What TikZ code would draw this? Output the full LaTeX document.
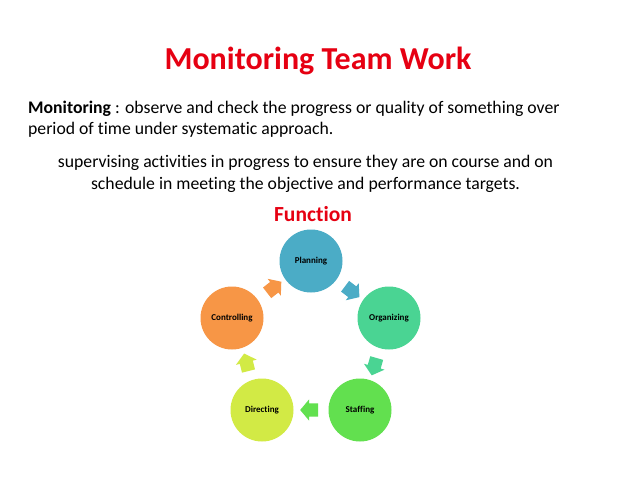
\documentclass[tikz,border=0pt]{standalone}
\usepackage{fontspec}
\setmainfont[Ligatures=NoCommon]{Carlito}
\usetikzlibrary{shapes.arrows}
\definecolor{titlered}{HTML}{E60012}
\definecolor{planblue}{HTML}{4BACC6}
\definecolor{orggreen}{HTML}{4AD493}
\definecolor{stafgreen}{HTML}{62E04F}
\definecolor{dirlime}{HTML}{D2EA45}
\definecolor{ctrlorange}{HTML}{F79646}
\tikzset{
  func/.style={circle, minimum size=63pt, inner sep=0pt, font=\fontsize{9}{9}\selectfont\bfseries},
  blockarrow/.style={single arrow, minimum height=18pt, inner xsep=0pt, inner ysep=0pt,
    text width=0pt, text height=6.5pt, text depth=6.5pt,
    single arrow head extend=4pt, single arrow tip angle=100},
  bodyline/.style={font=\fontsize{17.7}{18}\selectfont, inner sep=0pt}
}
\begin{document}
\begin{tikzpicture}[x=1pt,y=-1pt]
        \useasboundingbox[fill=white] (0,0) rectangle (638,479);
        \node[font=\fontsize{32}{32}\selectfont\bfseries, text=titlered, inner sep=0pt] (T) at (318,61) {Monitoring Team Work};
        \node[bodyline, anchor=base west] (L1) at (28,113) {\textbf{Monitoring} : observe and check the progress or quality of something over};
        \node[bodyline, anchor=base west] (L2) at (28,134) {period of time under systematic approach.};
        \node[bodyline, anchor=base] (L3) at (305.5,167) {supervising activities in progress to ensure they are on course and on};
        \node[bodyline, anchor=base] (L4) at (305.5,189) {schedule in meeting the objective and performance targets.};
        \node[font=\fontsize{21.5}{22}\selectfont\bfseries, text=titlered, inner sep=0pt, anchor=base] (F) at (313,221) {Function};
        % the five functions
        \node[func, fill=planblue] (P) at (311,261) {Planning};
        \node[func, fill=orggreen] (O) at (389,318) {Organizing};
        \node[func, fill=stafgreen] (S) at (360,410) {Staffing};
        \node[func, fill=dirlime] (D) at (262,410) {Directing};
        \node[func, fill=ctrlorange] (C) at (232,318) {Controlling};
        % block arrows between them
        \node[blockarrow, fill=planblue, rotate=-37] (PO) at (350,290) {};
        \node[blockarrow, fill=orggreen, rotate=-106] (OS) at (375,364) {};
        \node[blockarrow, fill=stafgreen, rotate=180] (SD) at (312,410) {};
        \node[blockarrow, fill=dirlime, rotate=104] (DC) at (247,365) {};
        \node[blockarrow, fill=ctrlorange, rotate=38] (CP) at (272,289) {};
      \end{tikzpicture}
\end{document}
